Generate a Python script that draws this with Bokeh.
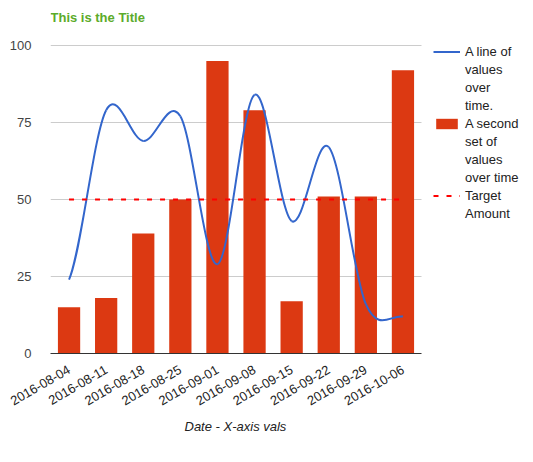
from bokeh.plotting import figure
from bokeh.models import Range1d, FixedTicker, Legend, LegendItem, Label, Title
from bokeh.embed import file_html
from bokeh.resources import INLINE
import numpy as np

# chart data
dates = ["2016-08-04", "2016-08-11", "2016-08-18", "2016-08-25", "2016-09-01",
         "2016-09-08", "2016-09-15", "2016-09-22", "2016-09-29", "2016-10-06"]
line_vals = [24, 79, 69, 77, 29, 84, 43, 67, 16, 12]
bar_vals = [15, 18, 39, 50, 95, 79, 17, 51, 51, 92]
target = 50
y_ticks = [0, 25, 50, 75, 100]

# legend texts, wrapped like the original
line_name = ["A line of", "values", "over", "time."]
bar_name = ["A second", "set of", "values", "over time"]
target_name = ["Target", "Amount"]

FONT = "Liberation Sans"

n = len(dates)
xs = np.arange(n) + 0.5

# the frame covers the legend/title area too; the chart itself uses 371x308 px of it
W, H = 533, 462
left, bottom = 50, 109
plot_w, plot_h, plot_top = 371, 308, 45
frame_w, frame_h = W - left, H - bottom
x_end = n * frame_w / plot_w
y_end = 100 * frame_h / plot_h

p = figure(width=W, height=H, output_backend="svg", toolbar_location=None,
           x_range=Range1d(0, x_end), y_range=Range1d(0, y_end),
           min_border_left=left, min_border_right=0, min_border_top=0,
           min_border_bottom=bottom)
p.outline_line_color = None
p.xgrid.grid_line_color = None
p.ygrid.grid_line_color = None

# gridlines, only across the chart part
p.segment(x0=0, x1=n, y0=y_ticks[1:], y1=y_ticks[1:], line_color="#cccccc", line_width=1)

# bars
bars = p.vbar(x=xs, top=bar_vals, width=0.6, fill_color="#dc3912", line_color=None)

# smooth line through the points (catmull-rom style beziers)
ys = np.array(line_vals, dtype=float)
ext = np.concatenate([[ys[0]], ys, [ys[-1]]])
m = (ext[2:] - ext[:-2]) / 2.0
curve = p.bezier(x0=xs[:-1], y0=ys[:-1], x1=xs[1:], y1=ys[1:],
                 cx0=xs[:-1] + 1 / 3, cy0=ys[:-1] + m[:-1] / 3,
                 cx1=xs[1:] - 1 / 3, cy1=ys[1:] - m[1:] / 3,
                 line_color="#3366cc", line_width=2)

# target line
tgt = p.line(xs, [target] * n, line_color="red", line_width=2, line_dash="5 8")

# axes
p.yaxis.ticker = FixedTicker(ticks=y_ticks)
p.yaxis.axis_line_color = None
p.yaxis.major_tick_line_color = None
p.yaxis.minor_tick_line_color = None
p.yaxis.major_label_text_font = FONT
p.yaxis.major_label_text_font_size = "13px"
p.yaxis.major_label_text_color = "#444444"
p.yaxis.major_label_standoff = 13

p.xaxis.bounds = (0, n)
p.xaxis.ticker = FixedTicker(ticks=list(xs))
p.xaxis.major_label_overrides = {float(x): d for x, d in zip(xs, dates)}
p.xaxis.major_label_orientation = np.pi / 6
p.xaxis.axis_line_color = "#333333"
p.xaxis.major_tick_line_color = None
p.xaxis.minor_tick_line_color = None
p.xaxis.major_label_text_font = FONT
p.xaxis.major_label_text_font_size = "13px"
p.xaxis.major_label_text_color = "#222222"
p.xaxis.major_label_standoff = 9

# x axis title, centred under the chart part (not the whole frame)
p.add_layout(Title(text="Date - X-axis vals", align="left", offset=134,
                   text_font=FONT, text_font_size="13px", text_font_style="italic",
                   text_color="#222222", standoff=8), "below")

# title
p.add_layout(Label(x=0, y=frame_h - 17, x_units="screen", y_units="screen",
                   text="This is the Title", text_font=FONT, text_font_size="13px",
                   text_font_style="bold", text_color="#5cab2a", text_baseline="middle"))

# legend: one row per wrapped line, glyph only beside the first line
items = []
for name, rend in [(line_name, curve), (bar_name, bars), (target_name, tgt)]:
    items.append(LegendItem(label=name[0], renderers=[rend]))
    for txt in name[1:]:
        items.append(LegendItem(label=txt, renderers=[]))

row_h = 18
legend = Legend(items=items, location=(plot_w + 12, frame_h - 42 - row_h * len(items)))
legend.margin = 0
legend.padding = 0
legend.border_line_color = None
legend.background_fill_alpha = 0
legend.glyph_width = 27
legend.glyph_height = 13
legend.label_height = row_h
legend.label_standoff = 5
legend.spacing = 0
legend.label_text_font = FONT
legend.label_text_font_size = "13px"
legend.label_text_color = "#222222"
p.add_layout(legend)

open("out.html", "w").write(file_html(p, INLINE))
